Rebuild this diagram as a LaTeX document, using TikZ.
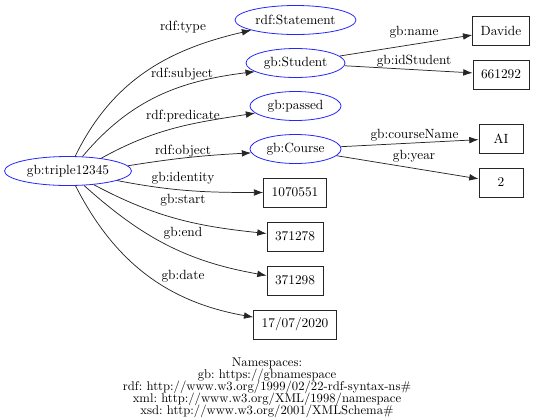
\documentclass[tikz,border=0pt]{standalone}
\usetikzlibrary{shapes.geometric,arrows.meta}

\newcommand\nsfont{\fontsize{9.5}{9}\selectfont\frenchspacing\lineskiplimit=-10pt\relax\lineskip=0pt\relax}

\tikzset{
  res/.style={ellipse, draw=blue!85!white, line width=0.6pt, inner sep=0pt, minimum height=21.75pt},
  lit/.style={rectangle, draw=black!85, line width=0.6pt, inner xsep=6pt, minimum width=33pt, minimum height=21.75pt},
  elabel/.style={inner sep=0pt},
  edge/.style={-{Latex[length=7pt,width=5pt]}, line width=0.55pt, black!85},
}

\begin{document}
\begin{tikzpicture}[x=0.75pt,y=-0.75pt]
\useasboundingbox (0,0) rectangle (550,419);

% resources
\node[res, minimum width=95.25pt] (triple) at (68,171) {gb:triple12345};
\node[res, minimum width=90.75pt] (stmt) at (295.5,20) {rdf:Statement};
\node[res, minimum width=74.25pt] (student) at (295.5,63) {gb:Student};
\node[res, minimum width=68.25pt] (passed) at (295.5,106) {gb:passed};
\node[res, minimum width=68.25pt] (course) at (295.5,149) {gb:Course};

% literals
\node[lit] (davide) at (501,30.5) {Davide};
\node[lit] (idstud) at (501,74.5) {661292};
\node[lit] (ai) at (501,138.5) {AI};
\node[lit] (year) at (501,182.5) {2};
\node[lit] (ident) at (295,192.5) {1070551};
\node[lit] (start) at (295,236.5) {371278};
\node[lit] (end) at (295,280.5) {371298};
\node[lit] (date) at (295,324.5) {17/07/2020};

% edges from the triple
\draw[edge] (triple) to[out=64,in=193] (stmt);
\draw[edge] (triple.45) to[out=50,in=187] (student.192);
\draw[edge] (triple.21) to[out=29,in=189] (passed.190);
\draw[edge] (triple.5) to[out=9,in=183] (course.185);
\draw[edge] (triple) to[out=-11,in=180] (ident);
\draw[edge] (triple) to[out=-28,in=174] (start);
\draw[edge] (triple) to[out=-42,in=170] (end);
\draw[edge] (triple) to[out=-63,in=170] (date);

\draw[edge] (student) -- (davide);
\draw[edge] (student) -- (idstud);
\draw[edge] (course) -- (ai);
\draw[edge] (course) -- (year);

% edge labels
\node[elabel] (l-type) at (183,27) {rdf:type};
\node[elabel] (l-subj) at (182,74) {rdf:subject};
\node[elabel] (l-pred) at (183,116) {rdf:predicate};
\node[elabel] (l-obj) at (183,151) {rdf:object};
\node[elabel] (l-ident) at (183,178) {gb:identity};
\node[elabel] (l-start) at (183,200) {gb:start};
\node[elabel] (l-end) at (183,233) {gb:end};
\node[elabel] (l-date) at (183,276) {gb:date};
\node[elabel] (l-name) at (414,32) {gb:name};
\node[elabel] (l-idst) at (414,61) {gb:idStudent};
\node[elabel] (l-cname) at (414.5,135) {gb:courseName};
\node[elabel] (l-year) at (414,156) {gb:year};

% namespaces
\node[align=center, inner sep=0pt, font=\nsfont] (ns) at (267,388)
  {Namespaces:\\
   gb: https://gbnamespace\\
   rdf: http://www.w3.org/1999/02/22-rdf-syntax-ns\#\\
   xml: http://www.w3.org/XML/1998/namespace\\
   xsd: http://www.w3.org/2001/XMLSchema\#};

\end{tikzpicture}
\end{document}
